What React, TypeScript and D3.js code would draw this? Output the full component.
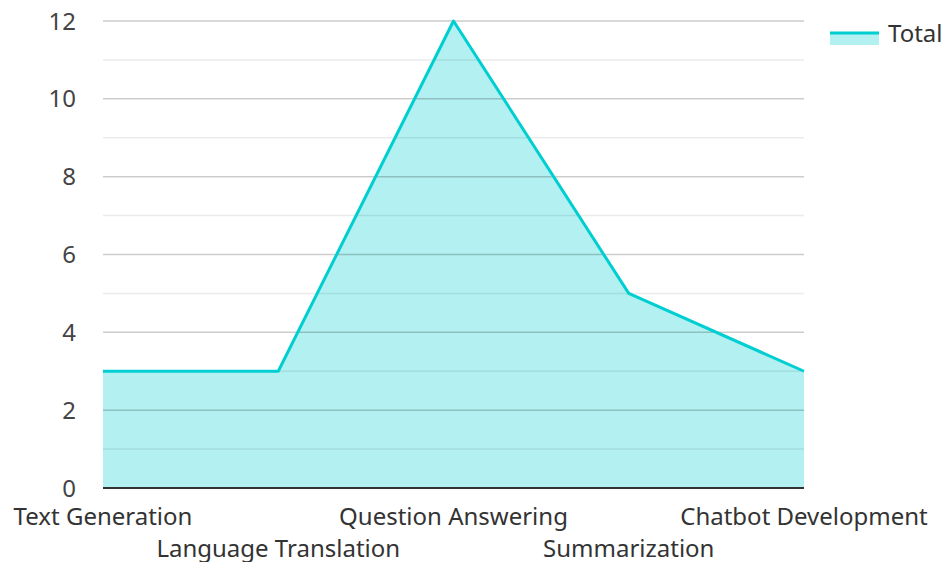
import React, { useEffect, useRef } from "react";
import * as d3 from "d3";

const width = 945,
  height = 562;

const categories = [
  "Text Generation",
  "Language Translation",
  "Question Answering",
  "Summarization",
  "Chatbot Development",
];
const totals = [3, 3, 12, 5, 3];
const yTicks = [0, 2, 4, 6, 8, 10, 12];
const seriesName = "Total";

const margin = { top: 21, right: 141, bottom: 74, left: 103 };
const lineColor = "#00CED1";
const font = "'Noto Sans', sans-serif";

function App() {
  const ref = useRef<SVGSVGElement>(null);

  useEffect(() => {
    const svg = d3.select(ref.current);
    svg.selectAll("*").remove();

    const x = d3
      .scalePoint()
      .domain(categories)
      .range([margin.left, width - margin.right]);
    const y = d3
      .scaleLinear()
      .domain([0, 12])
      .range([height - margin.bottom, margin.top]);

    const data = categories.map((c, i) => ({ c, v: totals[i] }));

    // 填充区域
    const area = d3
      .area<{ c: string; v: number }>()
      .x(d => x(d.c)!)
      .y0(y(0))
      .y1(d => y(d.v));
    svg
      .append("path")
      .datum(data)
      .attr("fill", lineColor)
      .attr("fill-opacity", 0.3)
      .attr("d", area);

    // 网格线（次要 + 主要）
    const minor = d3.range(1, 12, 2);
    svg
      .append("g")
      .selectAll("line")
      .data(minor)
      .join("line")
      .attr("x1", margin.left)
      .attr("x2", width - margin.right)
      .attr("y1", d => y(d))
      .attr("y2", d => y(d))
      .attr("stroke", "#000")
      .attr("stroke-opacity", 0.08)
      .attr("stroke-width", 1.5);
    svg
      .append("g")
      .selectAll("line")
      .data(yTicks.filter(d => d > 0))
      .join("line")
      .attr("x1", margin.left)
      .attr("x2", width - margin.right)
      .attr("y1", d => y(d))
      .attr("y2", d => y(d))
      .attr("stroke", "#000")
      .attr("stroke-opacity", 0.2)
      .attr("stroke-width", 1.5);

    // 折线
    const line = d3
      .line<{ c: string; v: number }>()
      .x(d => x(d.c)!)
      .y(d => y(d.v));
    svg
      .append("path")
      .datum(data)
      .attr("fill", "none")
      .attr("stroke", lineColor)
      .attr("stroke-width", 3)
      .attr("stroke-linejoin", "round")
      .attr("d", line);

    // x 轴线
    svg
      .append("line")
      .attr("x1", margin.left)
      .attr("x2", width - margin.right)
      .attr("y1", y(0))
      .attr("y2", y(0))
      .attr("stroke", "#333")
      .attr("stroke-width", 2);

    // y 轴标签
    svg
      .append("g")
      .attr("font-family", font)
      .attr("font-size", 24)
      .attr("fill", "#444")
      .attr("text-anchor", "end")
      .selectAll("text")
      .data(yTicks)
      .join("text")
      .attr("x", 76)
      .attr("y", d => y(d))
      .attr("dy", "0.36em")
      .text(d => d);

    // x 轴标签（交错两行）
    svg
      .append("g")
      .attr("font-family", font)
      .attr("font-size", 24)
      .attr("fill", "#333")
      .attr("text-anchor", "middle")
      .selectAll("text")
      .data(categories)
      .join("text")
      .attr("x", d => x(d)!)
      .attr("y", (d, i) => (i % 2 === 0 ? 525 : 557))
      .text(d => d);

    // 图例
    const lg = svg.append("g");
    lg.append("rect")
      .attr("x", 830)
      .attr("y", 33)
      .attr("width", 49)
      .attr("height", 12)
      .attr("fill", lineColor)
      .attr("fill-opacity", 0.3);
    lg.append("line")
      .attr("x1", 830)
      .attr("x2", 879)
      .attr("y1", 33)
      .attr("y2", 33)
      .attr("stroke", lineColor)
      .attr("stroke-width", 3);
    lg.append("text")
      .attr("x", 888)
      .attr("y", 42)
      .attr("font-family", font)
      .attr("font-size", 24)
      .attr("fill", "#333")
      .text(seriesName);
  }, []);

  return (
    <svg
      ref={ref}
      width={width}
      height={height}
      style={{ position: "absolute", left: 0, top: 0 }}
    />
  );
}

export default App;
